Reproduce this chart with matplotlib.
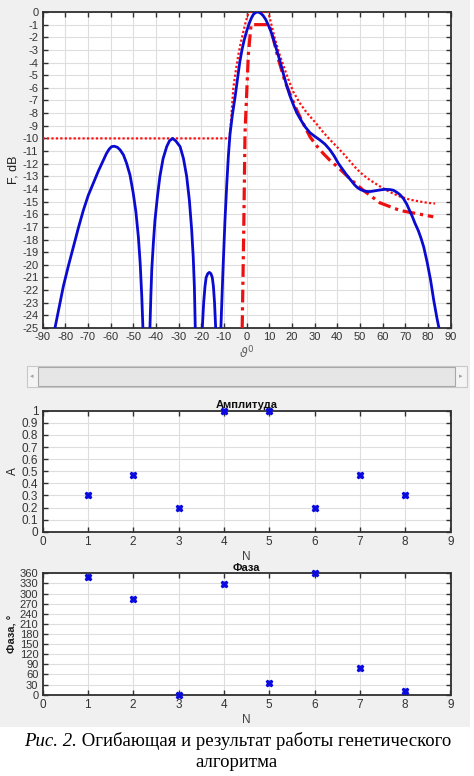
import matplotlib
matplotlib.use("Agg")
import matplotlib.pyplot as plt
from matplotlib.patches import Rectangle

plt.rcParams['axes.unicode_minus'] = False
plt.rcParams['font.family'] = ['Liberation Sans', 'DejaVu Sans']

# ---------------- data ----------------
theta_blue = [-85.2, -84.5, -82.6, -80.8, -78.6, -76.4, -74.2, -72.0, -69.8, -67.6, -65.4, -63.2, -61.8,
              -60.6, -59.5, -58.3, -57.0, -55.8, -54.3, -52.9, -51.4, -50.0, -48.8, -47.7, -46.9, -46.2,
              -45.7, -45.2,
              -43.2, -42.6, -42.2, -41.8, -41.1, -40.4, -39.3, -38.2, -36.8, -35.2, -34.0, -32.6, -31.2,
              -29.3, -27.8, -26.4, -25.2, -24.2, -23.5, -23.0, -22.6, -22.3,
              -19.8, -19.5, -18.9, -18.3, -17.8, -17.1, -16.4, -15.7, -15.1, -14.6, -14.1, -13.6, -13.3,
              -11.7, -11.3, -10.4, -9.5, -8.7, -8.0, -7.3, -6.2, -5.1, -4.0, -3.0, -2.0, -1.0, 0.1, 1.2,
              2.1, 3.0, 3.9, 4.8, 5.6, 6.4, 7.4, 8.5, 9.6, 10.7, 11.8, 13.3, 14.8, 16.2, 17.7, 19.1, 20.6,
              22.1, 24.0, 25.8, 28.0, 30.2, 32.4, 34.6, 36.8, 38.7, 40.5, 42.4, 44.2, 46.0, 47.8, 49.0,
              50.3, 51.8, 53.2, 54.8, 56.5, 58.9, 61.0, 63.3, 64.8, 66.2, 67.7, 69.2, 70.7, 72.1, 73.2,
              74.3, 75.8, 77.0, 78.2, 79.7, 81.2, 82.6, 84.0, 84.9, 85.6]
F_blue = [-28, -25, -23.3, -21.7, -20.1, -18.6, -17.1, -15.7, -14.5, -13.55, -12.6, -11.75, -11.2,
          -10.85, -10.65, -10.62, -10.7, -10.9, -11.3, -11.97, -12.9, -14.3, -15.8, -17.8, -19.9, -22.5,
          -25, -28,
          -28, -25, -22.5, -20.4, -18.3, -16.5, -14.6, -13.0, -11.6, -10.65, -10.2, -10.0, -10.2,
          -10.65, -11.6, -13.0, -14.9, -17.2, -19.4, -21.7, -25, -28,
          -28, -25, -23.0, -21.7, -21.0, -20.7, -20.6, -20.7, -21.0, -21.7, -23.0, -25, -28,
          -28, -25, -20.5, -16.5, -13.6, -11.4, -9.7, -8.1, -6.8, -5.3, -4.0, -3.0, -2.2, -1.5, -0.9,
          -0.5, -0.2, -0.05, 0.0, -0.03, -0.12, -0.3, -0.6, -1.03, -1.5, -2.1, -3.0, -3.9, -4.85, -5.8,
          -6.6, -7.3, -7.95, -8.55, -9.07, -9.55, -9.85, -10.13, -10.45, -10.9, -11.4, -11.97, -12.45,
          -12.9, -13.3, -13.7, -13.9, -14.05, -14.15, -14.2, -14.2, -14.15, -14.08, -14.03, -14.05, -14.1,
          -14.25, -14.45, -14.75, -15.2, -15.75, -16.2, -16.7, -17.3, -17.9, -18.6, -19.8, -21.2, -22.8,
          -24.2, -25, -28]

theta_upper = [-90, -7.5, -7.0, -5.8, -4.7, -3.6, -2.5, -1.4, -0.3, 0.8, 1.0, 9.6, 10.3, 11.4, 12.5,
               14.3, 16.2, 18.4, 20.6, 23.5, 26.5, 28.7, 30.9, 33.8, 36.8, 39.8, 42.7, 45.6, 48.5,
               51.5, 54.5, 56.7, 58.9, 63.3, 67.7, 72.2, 76.6, 80.0, 83.2]
F_upper = [-10, -10, -9.0, -6.0, -4.6, -3.4, -2.4, -1.56, -0.75, -0.1, 0, 0, -0.5, -1.3, -2.1,
           -3.2, -4.2, -5.3, -6.3, -7.2, -7.95, -8.4, -8.85, -9.5, -10.1, -10.65, -11.2, -11.8, -12.4,
           -12.9, -13.3, -13.55, -13.8, -14.25, -14.6, -14.85, -15.0, -15.1, -15.15]

theta_lower = [-1.9, -1.2, -0.66, 0.8, 2.0, 10.0, 11.8, 14.0, 17.0, 19.9, 21.8, 23.6, 25.8, 28.0,
               31.0, 33.9, 36.9, 39.8, 42.8, 45.7, 48.6, 51.5, 55.2, 58.9, 63.3, 67.7, 70.6, 73.6,
               78.0, 82.4]
F_lower = [-25, -17, -9.6, -3.4, -1.0, -1.0, -2.1, -3.7, -5.5, -6.8, -7.6, -8.3, -9.1, -9.87,
           -10.6, -11.2, -11.75, -12.2, -12.7, -13.2, -13.65, -14.1, -14.6, -15.1, -15.4, -15.7,
           -15.8, -15.9, -16.05, -16.2]

N = [1, 2, 3, 4, 5, 6, 7, 8]
amplitude = [0.3, 0.467, 0.2, 1.0, 1.0, 0.2, 0.467, 0.3]
phase = [350, 284, 0, 327, 34, 360, 78, 11]

x_ticks_top = list(range(-90, 91, 10))
y_ticks_top = list(range(0, -26, -1))
amp_ticks = [0, 0.1, 0.2, 0.3, 0.4, 0.5, 0.6, 0.7, 0.8, 0.9, 1]
amp_tick_labels = ['0', '0.1', '0.2', '0.3', '0.4', '0.5', '0.6', '0.7', '0.8', '0.9', '1']
phase_ticks = list(range(0, 361, 30))
n_ticks = list(range(0, 10))

# ---------------- figure ----------------
W, H = 474, 776
fig = plt.figure(figsize=(W / 100, H / 100), dpi=100)
fig.patch.set_facecolor('white')

def fx(px):
    return px / W

def fy(py):
    return 1 - py / H

# gray GUI panel
fig.add_artist(Rectangle((0, fy(727)), fx(470), 1 - fy(727), transform=fig.transFigure,
                         facecolor='#f0f0f0', edgecolor='none', zorder=-10))

tick_color = '#333333'
grid_color = '#dedede'
spine_color = '#303030'


def style_axes(ax, lsize):
    ax.set_facecolor('white')
    for s in ax.spines.values():
        s.set_color(spine_color)
        s.set_linewidth(1.3)
    ax.tick_params(direction='in', top=True, right=True, length=3.5, width=1,
                   color=spine_color, labelcolor=tick_color, labelsize=lsize, pad=3)
    ax.grid(True, color=grid_color, linewidth=0.8)
    ax.set_axisbelow(True)


# ---------------- top plot ----------------
L, R = 42.5, 450.5
ax1 = fig.add_axes([fx(L), fy(328), fx(R) - fx(L), fy(12) - fy(328)])
style_axes(ax1, 8)
ax1.plot(theta_upper, F_upper, color='#ff1010', lw=1.6, linestyle=(0, (1, 1)), zorder=3)
ax1.plot(theta_lower, F_lower, color='#ee1010', lw=2.3, linestyle=(0, (4, 1.5, 1, 1.5)), zorder=3)
ax1.plot(theta_blue, F_blue, color='#0a0ad0', lw=2.0, zorder=4, solid_joinstyle='round')
ax1.set_xlim(-90, 90)
ax1.set_ylim(-25, 0)
ax1.set_xticks(x_ticks_top)
ax1.set_yticks(y_ticks_top)
ax1.set_xticklabels([str(v) for v in x_ticks_top])
ax1.set_yticklabels([str(v) for v in y_ticks_top])
ax1.set_xlabel(r'$\vartheta^{0}$', fontsize=9, color='#606060', labelpad=2)
ax1.set_ylabel('F, dB', fontsize=9, color='#202020', labelpad=2)

# scrollbar
fig.add_artist(Rectangle((fx(27), fy(387)), fx(440), fy(366) - fy(387), transform=fig.transFigure,
                         facecolor='#f4f4f4', edgecolor='#c8c8c8', lw=0.8))
fig.add_artist(Rectangle((fx(38), fy(386)), fx(417), fy(367) - fy(386), transform=fig.transFigure,
                         facecolor='#e6e6e6', edgecolor='#a8a8a8', lw=0.8))
fig.text(fx(32), fy(376.5), '\u25c2', fontsize=5, color='#a0a0a0', ha='center', va='center',
         family='DejaVu Sans')
fig.text(fx(461), fy(376.5), '\u25b8', fontsize=5, color='#a0a0a0', ha='center', va='center',
         family='DejaVu Sans')

# ---------------- amplitude ----------------
ax2 = fig.add_axes([fx(L), fy(531.7), fx(R) - fx(L), fy(410.7) - fy(531.7)])
style_axes(ax2, 8.5)
ax2.plot(N, amplitude, linestyle='none', marker='X', color='#0a0ae0', markersize=4.5, zorder=4,
         clip_on=False)
ax2.set_xlim(0, 9)
ax2.set_ylim(0, 1)
ax2.set_xticks(n_ticks)
ax2.set_yticks(amp_ticks)
ax2.set_yticklabels(amp_tick_labels)
ax2.set_title('Амплитуда', fontsize=8, fontweight='bold', color='#101010', pad=2)
ax2.set_xlabel('N', fontsize=8.5, color='#404040', labelpad=2)
ax2.set_ylabel('A', fontsize=8.5, color='#202020', labelpad=2)

# ---------------- phase ----------------
ax3 = fig.add_axes([fx(L), fy(694.7), fx(R) - fx(L), fy(573.3) - fy(694.7)])
style_axes(ax3, 8)
ax3.tick_params(axis='x', labelsize=8.5)
ax3.plot(N, phase, linestyle='none', marker='X', color='#0a0ae0', markersize=4.5, zorder=4,
         clip_on=False)
ax3.set_xlim(0, 9)
ax3.set_ylim(0, 360)
ax3.set_xticks(n_ticks)
ax3.set_yticks(phase_ticks)
ax3.set_title('Фаза', fontsize=8, fontweight='bold', color='#101010', pad=2)
ax3.set_xlabel('N', fontsize=8.5, color='#404040', labelpad=2)
ax3.set_ylabel('Фаза, °', fontsize=8, fontweight='bold', color='#202020', labelpad=2)

# ---------------- caption ----------------
serif = ['Liberation Serif', 'DejaVu Serif']
fs = 13.5
renderer = fig.canvas.get_renderer()
t_it = fig.text(0, 0, 'Рис. 2.', fontsize=fs, family=serif, style='italic', color='black')
t_rest = fig.text(0, 0, ' Огибающая и результат работы генетического', fontsize=fs, family=serif,
                  color='black')
w_it = t_it.get_window_extent(renderer).width
w_rest = t_rest.get_window_extent(renderer).width
total = w_it + w_rest
x0 = 237.5 - total / 2
y1 = fy(746)
t_it.set_position((fx(x0), y1))
t_rest.set_position((fx(x0 + w_it), y1))
fig.text(fx(236), fy(767), 'алгоритма', fontsize=fs, family=serif, color='black', ha='center')

fig.savefig('out.png', dpi=100, facecolor=fig.get_facecolor())
